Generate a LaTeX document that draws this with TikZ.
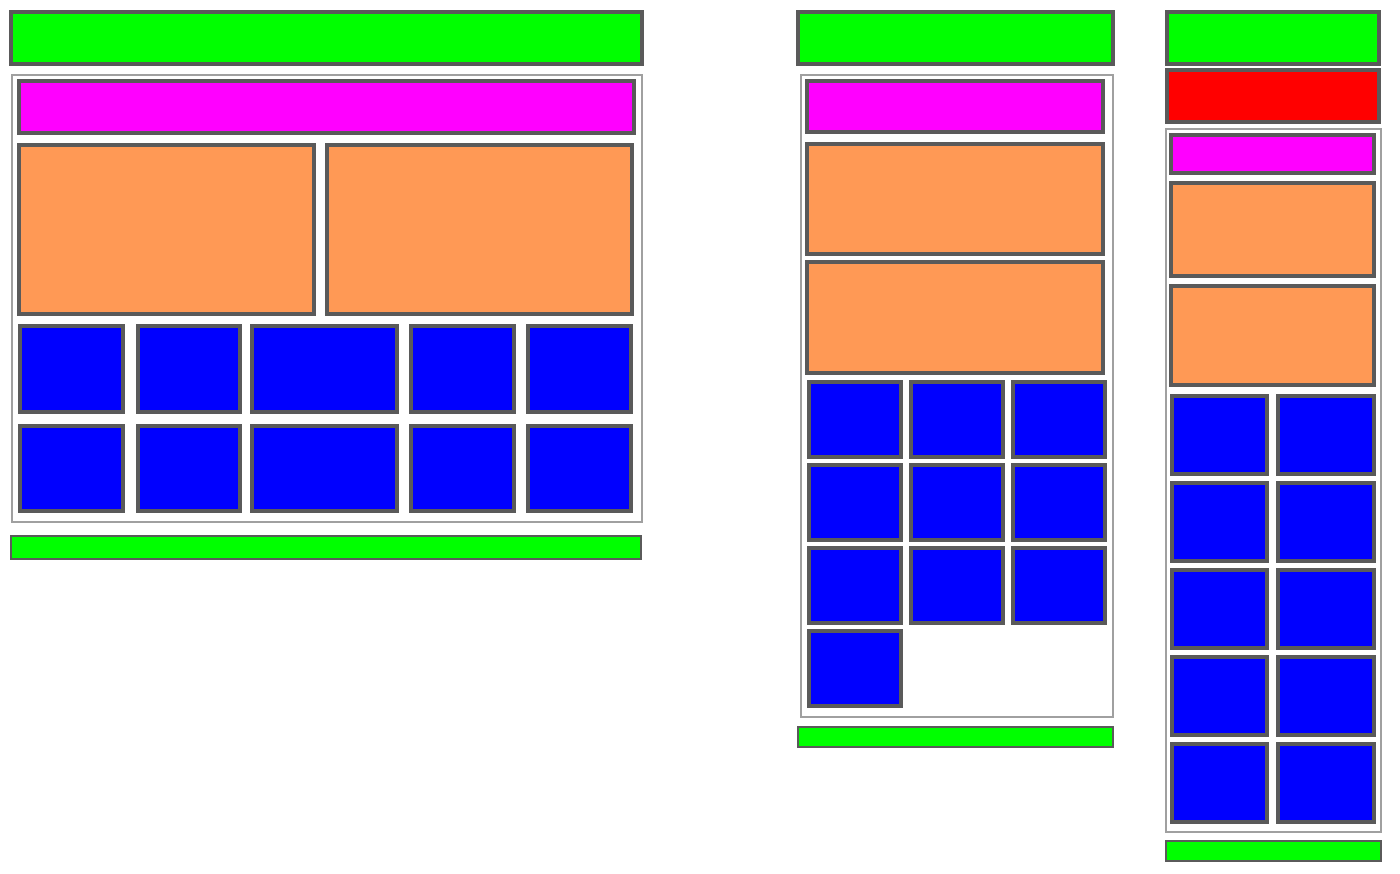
\documentclass[tikz,border=0pt]{standalone}
\usepackage{tikz}
\usetikzlibrary{positioning}

\definecolor{hgreen}{RGB}{0,255,0}
\definecolor{hpink}{RGB}{255,0,255}
\definecolor{horange}{RGB}{255,153,85}
\definecolor{hblue}{RGB}{0,0,255}
\definecolor{hred}{RGB}{255,0,0}
\definecolor{hline}{RGB}{90,90,90}
\definecolor{hframe}{RGB}{160,160,160}

\begin{document}
\begin{tikzpicture} [
	x=1pt,y=-1pt,
	text centered,
	node distance=10pt,
	nbox/.style={
		rectangle,inner sep=0pt,outer sep=0pt,anchor=north west,
		draw=hline,line width=3.2pt
	},
	nhead/.style={nbox,fill=hgreen},
	nfoot/.style={nbox,fill=hgreen,line width=2.4pt},
	nalert/.style={nbox,fill=hred},
	nnav/.style={nbox,fill=hpink},
	nhero/.style={nbox,fill=horange},
	ncard/.style={nbox,fill=hblue},
	nframe/.style={
		rectangle,inner sep=0pt,outer sep=0pt,anchor=north west,
		draw=hframe,line width=2pt,fill=white
	}
]
\useasboundingbox (0,0) rectangle (1400,874);

% desktop
\node [nhead,minimum width=631pt,minimum height=52pt]	(dhead) at (11,12)	{};
\node [nframe,minimum width=630pt,minimum height=447pt]	(dframe) at (12,75)	{};
\node [nnav,minimum width=615pt,minimum height=52pt]	(dnav) at (19,81)	{};
\node [nhero,minimum width=295pt,minimum height=169pt]	(dheroa) at (19,145)	{};
\node [nhero,minimum width=305pt,minimum height=169pt]	(dherob) at (327,145)	{};
\node [ncard,minimum width=103pt,minimum height=86pt]	(da1) at (20,326)	{};
\node [ncard,minimum width=102pt,minimum height=86pt]	(da2)[right=15pt of da1]	{};
\node [ncard,minimum width=145pt,minimum height=86pt]	(da3)[right=12pt of da2]	{};
\node [ncard,minimum width=103pt,minimum height=86pt]	(da4)[right=14pt of da3]	{};
\node [ncard,minimum width=103pt,minimum height=86pt]	(da5)[right=14pt of da4]	{};
\node [ncard,minimum width=103pt,minimum height=85pt]	(db1)[below=14pt of da1]	{};
\node [ncard,minimum width=102pt,minimum height=85pt]	(db2)[below=14pt of da2]	{};
\node [ncard,minimum width=145pt,minimum height=85pt]	(db3)[below=14pt of da3]	{};
\node [ncard,minimum width=103pt,minimum height=85pt]	(db4)[below=14pt of da4]	{};
\node [ncard,minimum width=103pt,minimum height=85pt]	(db5)[below=14pt of da5]	{};
\node [nfoot,minimum width=630pt,minimum height=23pt]	(dfoot) at (11,536)	{};

% tablet
\node [nhead,minimum width=315pt,minimum height=52pt]	(thead) at (798,12)	{};
\node [nframe,minimum width=312pt,minimum height=642pt]	(tframe) at (801,75)	{};
\node [nnav,minimum width=296pt,minimum height=51pt]	(tnav) at (807,81)	{};
\node [nhero,minimum width=296pt,minimum height=110pt]	(theroa) at (807,144)	{};
\node [nhero,minimum width=296pt,minimum height=111pt]	(therob)[below=8pt of theroa]	{};
\node [ncard,minimum width=92pt,minimum height=75pt]	(ta1) at (809,382)	{};
\node [ncard,minimum width=92pt,minimum height=75pt]	(ta2)[right=10pt of ta1]	{};
\node [ncard,minimum width=92pt,minimum height=75pt]	(ta3)[right=10pt of ta2]	{};
\node [ncard,minimum width=92pt,minimum height=75pt]	(tb1)[below=8pt of ta1]	{};
\node [ncard,minimum width=92pt,minimum height=75pt]	(tb2)[below=8pt of ta2]	{};
\node [ncard,minimum width=92pt,minimum height=75pt]	(tb3)[below=8pt of ta3]	{};
\node [ncard,minimum width=92pt,minimum height=75pt]	(tc1)[below=8pt of tb1]	{};
\node [ncard,minimum width=92pt,minimum height=75pt]	(tc2)[below=8pt of tb2]	{};
\node [ncard,minimum width=92pt,minimum height=75pt]	(tc3)[below=8pt of tb3]	{};
\node [ncard,minimum width=92pt,minimum height=75pt]	(td1)[below=8pt of tc1]	{};
\node [nfoot,minimum width=315pt,minimum height=20pt]	(tfoot) at (798,727)	{};

% mobile
\node [nhead,minimum width=212pt,minimum height=52pt]	(mhead) at (1167,12)	{};
\node [nalert,minimum width=212pt,minimum height=52pt]	(malert)[below=6pt of mhead]	{};
\node [nframe,minimum width=215pt,minimum height=703pt]	(mframe) at (1166,129)	{};
\node [nnav,minimum width=203pt,minimum height=38pt]	(mnav) at (1171,135)	{};
\node [nhero,minimum width=203pt,minimum height=93pt]	(mheroa) at (1171,183)	{};
\node [nhero,minimum width=203pt,minimum height=99pt]	(mherob)[below=10pt of mheroa]	{};
\node [ncard,minimum width=95pt,minimum height=78pt]	(ma1) at (1172,396)	{};
\node [ncard,minimum width=96pt,minimum height=78pt]	(ma2)[right=11pt of ma1]	{};
\node [ncard,minimum width=95pt,minimum height=78pt]	(mb1)[below=9pt of ma1]	{};
\node [ncard,minimum width=96pt,minimum height=78pt]	(mb2)[below=9pt of ma2]	{};
\node [ncard,minimum width=95pt,minimum height=78pt]	(mc1)[below=9pt of mb1]	{};
\node [ncard,minimum width=96pt,minimum height=78pt]	(mc2)[below=9pt of mb2]	{};
\node [ncard,minimum width=95pt,minimum height=78pt]	(md1)[below=9pt of mc1]	{};
\node [ncard,minimum width=96pt,minimum height=78pt]	(md2)[below=9pt of mc2]	{};
\node [ncard,minimum width=95pt,minimum height=78pt]	(me1)[below=9pt of md1]	{};
\node [ncard,minimum width=96pt,minimum height=78pt]	(me2)[below=9pt of md2]	{};
\node [nfoot,minimum width=215pt,minimum height=20pt]	(mfoot) at (1166,841)	{};
\end{tikzpicture}
\end{document}
